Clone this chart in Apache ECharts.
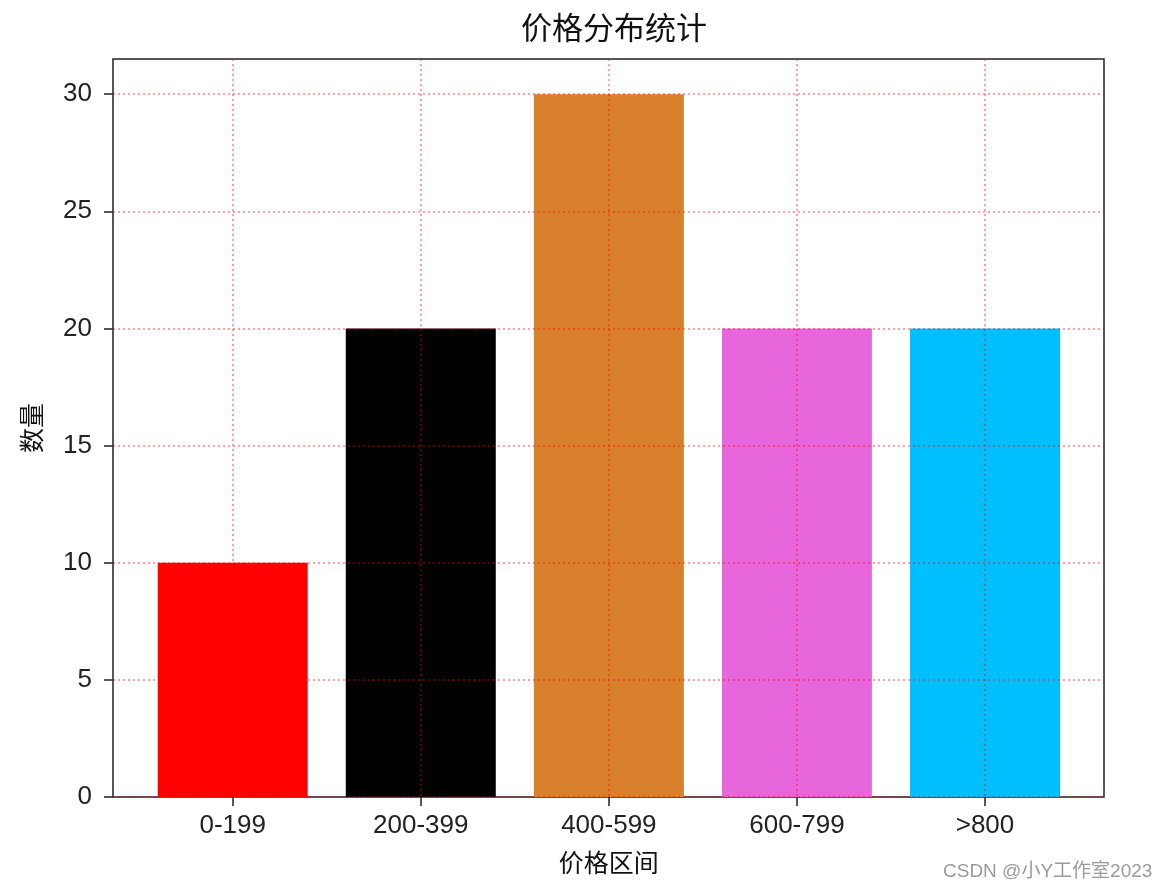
<!DOCTYPE html>
<html>
<head>
<meta charset="utf-8">
<script src="https://cdn.jsdelivr.net/npm/echarts@6/dist/echarts.min.js"></script>
<style>html,body{margin:0;padding:0;background:#fff}#c{width:1168px;height:892px}</style>
</head>
<body>
<div id="c"></div>
<script>
const categories = ['0-199', '200-399', '400-599', '600-799', '>800'];
const counts = [10, 20, 30, 20, 20];
const barColors = ['#ff0000', '#000000', '#d8802c', '#e866db', '#00bfff'];
const yTicks = [0, 5, 10, 15, 20, 25, 30];
const yMax = 31.5;

const FONT = "'Liberation Sans', 'Noto Sans CJK SC', sans-serif";
const gridLine = { color: 'rgba(255,0,0,0.5)', width: 1.5, type: [2, 3] };

const chart = echarts.init(document.getElementById('c'), null, { renderer: 'canvas' });
chart.setOption({
  animation: false,
  backgroundColor: '#fff',
  title: {
    text: '价格分布统计',
    left: 609, top: 10, textAlign: 'center',
    textStyle: { fontFamily: FONT, fontSize: 31, fontWeight: 'normal', color: '#111' }
  },
  grid: [
    { left: 113, right: 64, top: 59, bottom: 95, show: true, borderColor: '#222', borderWidth: 1.5, backgroundColor: 'transparent' },
    { left: 232.7, right: 183, top: 59, bottom: 95 }
  ],
  xAxis: [
    { type: 'value', gridIndex: 0, show: false, min: 0, max: 1 },
    {
      type: 'value', gridIndex: 1, min: 0, max: categories.length - 1, interval: 1, z: 10,
      name: '价格区间', nameLocation: 'middle', nameGap: 56,
      nameTextStyle: { fontFamily: FONT, fontSize: 25, color: '#111' },
      axisLine: { show: false },
      axisTick: { show: true, inside: false, length: 9, lineStyle: { color: '#222', width: 1.5 } },
      axisLabel: { margin: 16, fontFamily: FONT, fontSize: 26, color: '#222',
        formatter: v => categories[Math.round(v)] },
      splitLine: { show: true, lineStyle: gridLine }
    }
  ],
  yAxis: [
    {
      type: 'value', gridIndex: 0, min: 0, max: yMax, interval: 5, z: 10,
      name: '数量', nameLocation: 'middle', nameGap: 66, nameRotate: 90,
      nameTextStyle: { fontFamily: FONT, fontSize: 25, color: '#111' },
      axisLine: { show: false },
      axisTick: { show: true, inside: false, length: 9, customValues: yTicks, lineStyle: { color: '#222', width: 1.5 } },
      axisLabel: { margin: 21, fontFamily: FONT, fontSize: 26, color: '#222', customValues: yTicks },
      splitLine: { show: true, lineStyle: gridLine }
    },
    { type: 'value', gridIndex: 1, show: false, min: 0, max: yMax, splitLine: { show: false } }
  ],
  series: [{
    type: 'bar',
    xAxisIndex: 1, yAxisIndex: 1,
    barWidth: 150,
    clip: false,
    z: 2,
    data: counts.map((v, i) => ({ value: [i, v], itemStyle: { color: barColors[i] } }))
  }],
  graphic: [{
    type: 'text', left: 943, top: 862, z: 100,
    style: { text: 'CSDN @小Y工作室2023', font: "19px 'Liberation Sans', 'Noto Sans CJK SC', sans-serif", fill: '#9a9a9a' }
  }]
});
</script>
</body>
</html>
